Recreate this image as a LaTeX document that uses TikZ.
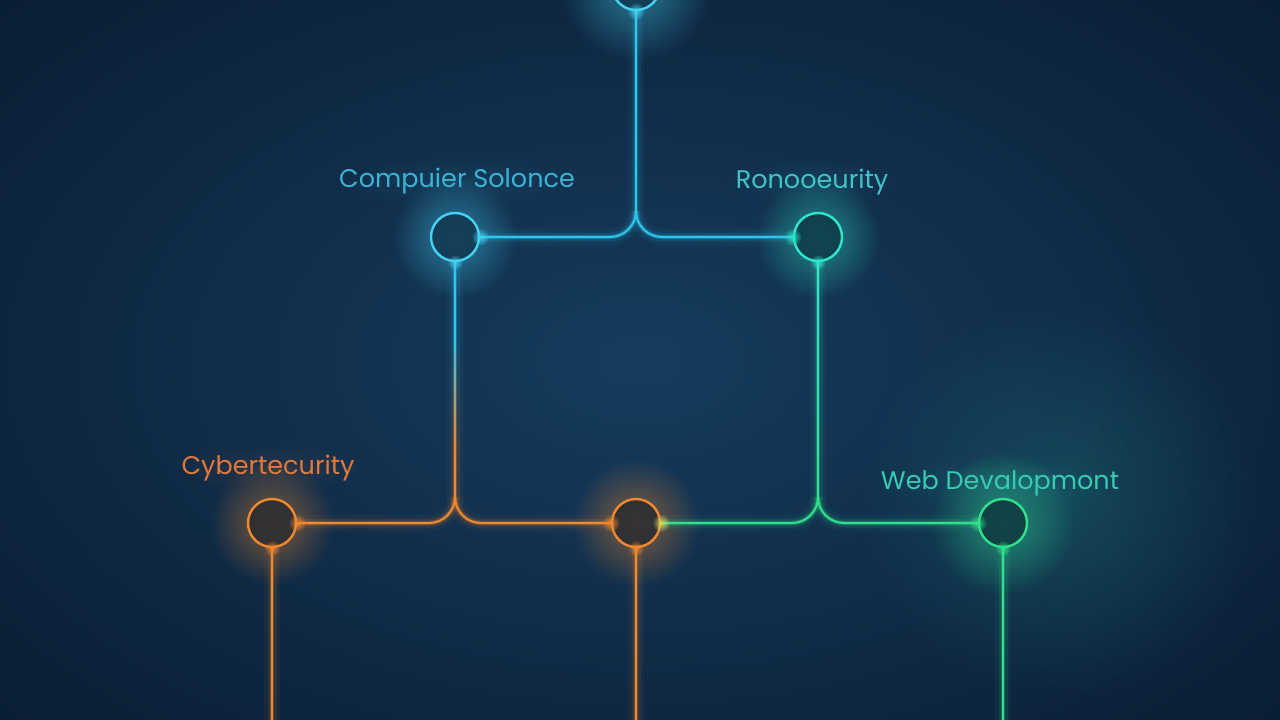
\documentclass[tikz,border=0pt]{standalone}
\usepackage{fontspec}
\setmainfont{Poppins}
\usetikzlibrary{fadings}
\tikzfading[name=glowfade, inner color=transparent!0, outer color=transparent!100]
\pgfdeclarelayer{back}
\pgfdeclarelayer{wires}
\pgfsetlayers{back,wires,main}
\definecolor{bgin}{HTML}{163C5E}
\definecolor{bgout}{HTML}{0A1D33}
\definecolor{cyanA}{HTML}{2EC6EC}
\definecolor{cyanB}{HTML}{45D2F2}
\definecolor{tealA}{HTML}{30E6C8}
\definecolor{greenA}{HTML}{30E08C}
\definecolor{orangeA}{HTML}{F0882E}
\definecolor{yellowA}{HTML}{D8E060}
\definecolor{txtcyan}{HTML}{3AB4D6}
\definecolor{txtteal}{HTML}{40C4C8}
\definecolor{txtorange}{HTML}{E2783A}
\definecolor{txtgreen}{HTML}{36CCB2}
\tikzset{
  wire/.style={draw=#1, line width=2pt, rounded corners=26pt,
    preaction={draw=#1, line width=16pt, opacity=0.05},
    preaction={draw=#1, line width=9pt, opacity=0.10},
    preaction={draw=#1, line width=4.5pt, opacity=0.28}},
  ring/.style={circle, minimum size=48pt, inner sep=0pt, draw=#1, line width=2.4pt,
    fill=#1!14!bgout, fill opacity=0.85},
  halo/.style={fill=#1, path fading=glowfade, opacity=0.5},
  dotglow/.style={fill=#1, path fading=glowfade, opacity=0.9},
  lbl/.style={font=\fontsize{25.5}{30}\selectfont, text=#1, inner sep=0pt}
}
\begin{document}
\begin{tikzpicture}[x=1pt, y=-1pt]
\useasboundingbox (0,0) rectangle (1280,720);
\begin{pgfonlayer}{back}
  \shade[inner color=bgin, outer color=bgout] (-250,-180) rectangle (1530,900);
  % node halos
  \fill[halo=cyanB] (636,-14) circle (75pt);
  \fill[halo=cyanB] (455,237) circle (62pt);
  \fill[halo=tealA] (818,237) circle (62pt);
  \fill[halo=orangeA] (272,523) circle (62pt);
  \fill[halo=orangeA] (636,523) circle (64pt);
  \fill[halo=greenA] (1003,523) circle (72pt);
  \fill[halo=tealA, opacity=0.16] (1060,500) circle (200pt);
  % label glows
  \fill[halo=txtcyan, opacity=0.10] (457,181) ellipse (120pt and 26pt);
  \fill[halo=txtteal, opacity=0.10] (812,182) ellipse (85pt and 24pt);
  \fill[halo=txtorange, opacity=0.10] (268,468) ellipse (100pt and 24pt);
  \fill[halo=txtgreen, opacity=0.10] (1000,483) ellipse (120pt and 26pt);
\end{pgfonlayer}

% nodes
\node[ring=cyanB] (top) at (636,-14) {};
\node[ring=cyanB] (cs) at (455,237) {};
\node[ring=tealA] (rono) at (818,237) {};
\node[ring=orangeA] (cyber) at (272,523) {};
\node[ring=orangeA] (mid) at (636,523) {};
\node[ring=greenA] (web) at (1003,523) {};

% bright connection dots
\fill[dotglow=cyanB] (cs.east) circle (9pt);
\fill[dotglow=cyanB] (cs.south) circle (8pt);
\fill[dotglow=cyanB] (top.south) circle (9pt);
\fill[dotglow=tealA] (rono.west) circle (9pt);
\fill[dotglow=tealA] (rono.south) circle (8pt);
\fill[dotglow=orangeA] (cyber.east) circle (9pt);
\fill[dotglow=orangeA] (cyber.south) circle (8pt);
\fill[dotglow=orangeA] (mid.west) circle (9pt);
\fill[dotglow=yellowA] (mid.east) circle (9pt);
\fill[dotglow=orangeA] (mid.south) circle (8pt);
\fill[dotglow=greenA] (web.west) circle (9pt);
\fill[dotglow=greenA] (web.south) circle (8pt);

\coordinate (topsplit) at (636,211);
\coordinate (cssplit) at (455,497);
\coordinate (ronosplit) at (818,497);
\coordinate (cyberend) at (272,720);
\coordinate (midend) at (636,720);
\coordinate (webend) at (1003,720);

\begin{pgfonlayer}{wires}
  % top level
  \path[wire=cyanA] (top.south) -- (topsplit);
  \path[wire=cyanA] (topsplit) |- (cs.east);
  \path[wire=cyanA] (topsplit) |- (rono.west);
  % computer science branch: gradient cyan -> orange
  \foreach \i in {0,...,19}{
    \pgfmathsetmacro{\ya}{261+\i*11.8}
    \pgfmathsetmacro{\yb}{261+(\i+1)*11.8}
    \pgfmathtruncatemacro{\p}{\i<6 ? 100 : max(0,100-(\i-6)*11)}
    \colorlet{segc}{cyanA!\p!orangeA}
    \path[wire=segc] (455,\ya) -- (455,\yb);
  }
  \path[wire=orangeA] (cssplit) |- (cyber.east);
  \path[wire=orangeA] (cssplit) |- (mid.west);
  % rono branch: teal -> green
  \foreach \i in {0,...,19}{
    \pgfmathsetmacro{\ya}{261+\i*11.8}
    \pgfmathsetmacro{\yb}{261+(\i+1)*11.8}
    \pgfmathtruncatemacro{\p}{100-\i*5}
    \colorlet{segc}{tealA!\p!greenA}
    \path[wire=segc] (818,\ya) -- (818,\yb);
  }
  \path[wire=greenA] (ronosplit) |- (mid.east);
  \path[wire=greenA] (ronosplit) |- (web.west);
  % downward lines
  \path[wire=orangeA] (cyber.south) -- (cyberend);
  \path[wire=orangeA] (mid.south) -- (midend);
  \path[wire=greenA] (web.south) -- (webend);
\end{pgfonlayer}

% labels
\node[lbl=txtcyan] (lcs) at (457,181) {Compuier Solonce};
\node[lbl=txtteal] (lrono) at (812,182) {Ronooeurity};
\node[lbl=txtorange] (lcyber) at (268,468) {Cybertecurity};
\node[lbl=txtgreen] (lweb) at (1000,483) {Web Devalopmont};
\end{tikzpicture}
\end{document}
